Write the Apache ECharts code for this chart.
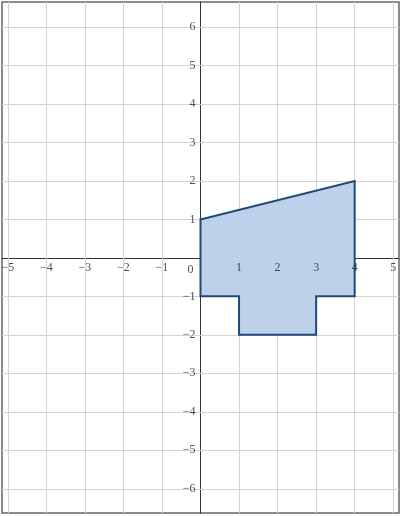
<!DOCTYPE html>
<html><head><meta charset="utf-8">
<script src="https://cdn.jsdelivr.net/npm/echarts@6/dist/echarts.min.js"></script>
<style>html,body{margin:0;padding:0;background:#fff}#c{width:402px;height:516px}</style>
</head><body><div id="c"></div>
<script>
var xTicks=[-5,-4,-3,-2,-1,1,2,3,4,5];
var yTicks=[-6,-5,-4,-3,-2,-1,1,2,3,4,5,6];
var polyX=[0,4,4,3,3,1,1,0];
var polyY=[1,2,-1,-1,-2,-2,-1,-1];
var XMIN=-5.15,XMAX=5.15,YMIN=-6.63,YMAX=6.65;
function lab(v){return v<0?'\u2212'+(-v):String(v);}
var gridLines=[];
xTicks.forEach(function(v){gridLines.push([[v,YMIN],[v,YMAX]]);});
yTicks.forEach(function(v){gridLines.push([[XMIN,v],[XMAX,v]]);});
var font='Liberation Serif';
var chart=echarts.init(document.getElementById('c'));
chart.setOption({
 animation:false,
 grid:{left:2,right:3,top:2,bottom:3,show:true,borderColor:'#666',borderWidth:1.5,backgroundColor:'#fff'},
 xAxis:{type:'value',min:XMIN,max:XMAX,axisLabel:{show:false},axisTick:{show:false},splitLine:{show:false},axisLine:{onZero:true,lineStyle:{color:'#333',width:1}}},
 yAxis:{type:'value',min:YMIN,max:YMAX,axisLabel:{show:false},axisTick:{show:false},splitLine:{show:false},axisLine:{onZero:true,lineStyle:{color:'#333',width:1}}},
 series:[
  {type:'lines',coordinateSystem:'cartesian2d',z:1,silent:true,data:gridLines.map(function(c){return {coords:c};}),lineStyle:{color:'#d4d4d4',width:1,opacity:1}},
  {type:'custom',z:3,renderItem:function(p,api){
    var pts=polyX.map(function(x,i){return api.coord([x,polyY[i]]);});
    return {type:'polygon',shape:{points:pts},style:{fill:'#bdd2ea',stroke:'#1f4a78',lineWidth:2,lineJoin:'miter'}};
   },data:[[0,0]]},
  {type:'scatter',z:4,symbolSize:0,silent:true,data:xTicks.map(function(v){return [v,0];}),
   label:{show:true,position:'bottom',distance:4,formatter:function(p){return lab(p.value[0]);},fontFamily:font,fontSize:12,color:'#222'}},
  {type:'scatter',z:4,symbolSize:0,silent:true,data:yTicks.map(function(v){return [0,v];}),
   label:{show:true,position:'left',distance:5,formatter:function(p){return lab(p.value[1]);},fontFamily:font,fontSize:12,color:'#222'}},
  {type:'scatter',z:4,symbolSize:0,silent:true,data:[[0,0]],
   label:{show:true,position:[-13,6],formatter:'0',fontFamily:font,fontSize:12,color:'#222'}}
 ]
});
</script></body></html>
